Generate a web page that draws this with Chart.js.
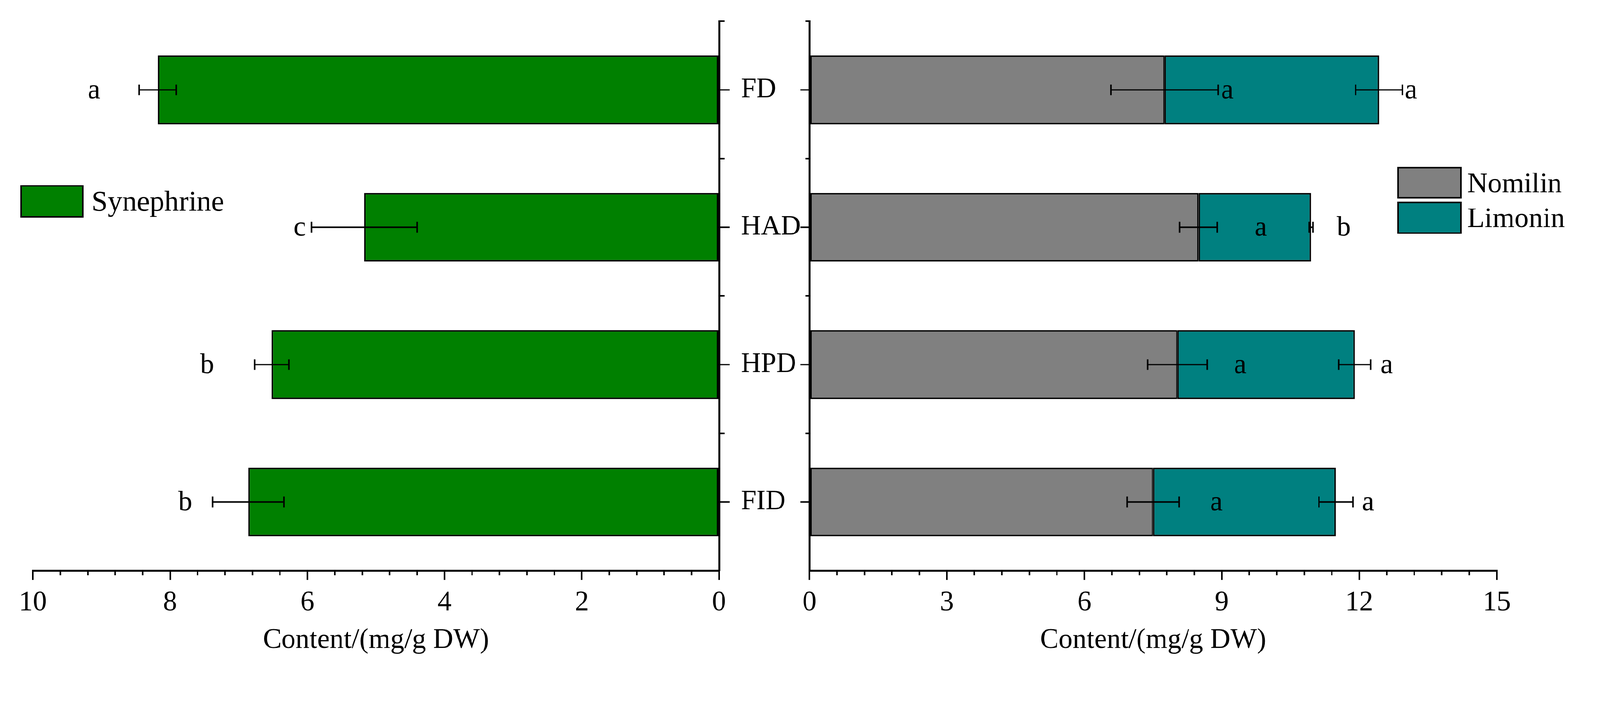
<!DOCTYPE html>
<html>
<head>
<meta charset="utf-8">
<title>Synephrine, nomilin and limonin content by drying method</title>
<script src="https://cdn.jsdelivr.net/npm/chart.js@4.4.1/dist/chart.umd.min.js"></script>
<style>
  html, body { margin: 0; padding: 0; background: #fff; overflow: hidden; }
  #wrap { position: absolute; left: 0; top: 0; width: 4230px; height: 1804px; transform-origin: 0 0; }
  canvas { position: absolute; top: 0; }
  #left { left: 0; }
  #right { left: 2100px; }
</style>
</head>
<body>
<div id="wrap">
  <canvas id="left" width="2140" height="1804"></canvas>
  <canvas id="right" width="2130" height="1804"></canvas>
</div>
<script>
// drying methods (top to bottom)
const methods = ["FD", "HAD", "HPD", "FID"];

// left panel: synephrine
const synephrine = [8.18, 5.17, 6.52, 6.86];
const synephrineErr = [0.27, 0.77, 0.25, 0.52];
const synephrineLetters = ["a", "c", "b", "b"];
const synephrineLetterAt = [9.11, 6.11, 7.46, 7.78];

// right panel: nomilin + limonin (stacked)
const nomilin = [7.75, 8.49, 8.03, 7.50];
const nomilinErr = [1.17, 0.41, 0.65, 0.57];
const nomilinLetters = ["a", "a", "a", "a"];
const nomilinLetterAt = [9.12, 9.85, 9.40, 8.88];

const limonin = [4.68, 2.46, 3.87, 3.99];
const limoninErr = [0.51, 0.04, 0.35, 0.37];
const limoninLetters = ["a", "b", "a", "a"];
const limoninLetterAt = [13.13, 11.66, 12.60, 12.19];

// value axis tick labels
const leftTicks = [0, 2, 4, 6, 8, 10];
const rightTicks = [0, 3, 6, 9, 12, 15];

const axisTitle = "Content/(mg/g DW)";
const FONT = "'Liberation Serif', 'Times New Roman', serif";

// the figure is laid out at 4230 x 1804, scale it to whatever the viewport really is
const fit = Math.min(window.innerWidth / 4230, window.innerHeight / 1804);
document.getElementById("wrap").style.transform = "scale(" + fit + ")";

Chart.defaults.font.family = FONT;
Chart.defaults.color = "#000";

// minor ticks on the value axis, and the category ticks in the middle gap
const axisDecor = {
  id: "axisDecor",
  afterDraw(chart, args, opts) {
    const { ctx, chartArea } = chart;
    const x = chart.scales.x, y = chart.scales.y;
    ctx.save();
    ctx.strokeStyle = "#000";
    ctx.lineWidth = 4;
    ctx.beginPath();
    const t = x.ticks.map(k => k.value);
    for (let i = 0; i < t.length - 1; i++) {
      const step = (t[i + 1] - t[i]) / 5;
      for (let j = 1; j < 5; j++) {
        const px = x.getPixelForValue(t[i] + j * step);
        ctx.moveTo(px, chartArea.bottom);
        ctx.lineTo(px, chartArea.bottom + opts.minorX);
      }
    }
    const ax = opts.side === "right" ? chartArea.right : chartArea.left;
    const dir = opts.side === "right" ? 1 : -1;
    const n = chart.data.labels.length;
    for (let i = 0; i < n; i++) {
      const py = y.getPixelForValue(i);
      ctx.moveTo(ax, py);
      ctx.lineTo(ax + dir * opts.major, py);
    }
    for (let i = 0; i < n; i++) {
      const py = y.getPixelForValue(i - 0.5);
      ctx.moveTo(ax, py);
      ctx.lineTo(ax + dir * opts.minor, py);
    }
    ctx.stroke();
    ctx.restore();
  }
};

// error bars + significance letters
const errorBars = {
  id: "errorBars",
  afterDatasetsDraw(chart, args, opts) {
    const { ctx } = chart;
    const x = chart.scales.x;
    ctx.save();
    ctx.strokeStyle = "#000";
    ctx.fillStyle = "#000";
    ctx.lineWidth = 4;
    ctx.font = opts.fontSize + "px " + FONT;
    ctx.textAlign = "center";
    ctx.textBaseline = "alphabetic";
    chart.data.datasets.forEach((ds, di) => {
      chart.getDatasetMeta(di).data.forEach((bar, i) => {
        const h = Math.abs(x.getPixelForValue(ds.errors[i]) - x.getPixelForValue(0));
        ctx.beginPath();
        ctx.moveTo(bar.x - h, bar.y);
        ctx.lineTo(bar.x + h, bar.y);
        ctx.moveTo(bar.x - h, bar.y - opts.cap);
        ctx.lineTo(bar.x - h, bar.y + opts.cap);
        ctx.moveTo(bar.x + h, bar.y - opts.cap);
        ctx.lineTo(bar.x + h, bar.y + opts.cap);
        ctx.stroke();
        ctx.fillText(ds.letters[i], x.getPixelForValue(ds.letterAt[i]), bar.y + opts.drop);
      });
    });
    ctx.restore();
  }
};

// boxed legend placed inside the panel
const boxLegend = {
  id: "boxLegend",
  afterDraw(chart, args, opts) {
    const { ctx } = chart;
    ctx.save();
    ctx.font = opts.fontSize + "px " + FONT;
    ctx.textAlign = "left";
    ctx.textBaseline = "alphabetic";
    chart.data.datasets.forEach((ds, i) => {
      const b = opts.boxes[i];
      ctx.fillStyle = ds.backgroundColor;
      ctx.fillRect(b.x, b.y, b.w, b.h);
      ctx.strokeStyle = "#000";
      ctx.lineWidth = 4;
      ctx.strokeRect(b.x, b.y, b.w, b.h);
      ctx.fillStyle = "#000";
      ctx.fillText(ds.label, opts.textX, b.y + b.h / 2 + opts.fontSize * 0.33);
    });
    ctx.restore();
  }
};

function valueAxis(ticks, reverse, fitHeight) {
  return {
    type: "linear",
    reverse: reverse,
    min: ticks[0],
    max: ticks[ticks.length - 1],
    afterBuildTicks: s => { s.ticks = ticks.map(v => ({ value: v })); },
    ticks: { font: { size: 74 }, color: "#000", padding: 16 },
    grid: { display: true, drawOnChartArea: false, drawTicks: true, tickLength: 25, color: "#000", lineWidth: 4 },
    border: { display: true, color: "#000", width: 5 },
    title: { display: true, text: axisTitle, font: { size: 74 }, color: "#000", padding: { top: 0, bottom: 67 } },
    afterFit: s => { s.height = fitHeight; }
  };
}

const barStyle = { borderColor: "#000", borderWidth: 4, borderSkipped: false, barPercentage: 0.5, categoryPercentage: 1.0 };

new Chart(document.getElementById("left"), {
  type: "bar",
  data: {
    labels: methods,
    datasets: [{
      label: "Synephrine",
      data: synephrine,
      errors: synephrineErr,
      letters: synephrineLetters,
      letterAt: synephrineLetterAt,
      backgroundColor: "#008000",
      ...barStyle
    }]
  },
  options: {
    indexAxis: "y",
    responsive: false,
    animation: false,
    layout: { padding: { left: 87, top: 56, right: 0, bottom: 0 } },
    plugins: {
      legend: { display: false },
      tooltip: { enabled: false },
      axisDecor: { side: "right", major: 28, minor: 15, minorX: 12 },
      errorBars: { cap: 14, fontSize: 74, drop: 22 },
      boxLegend: { fontSize: 77, textX: 242, boxes: [{ x: 56, y: 491, w: 163, h: 82 }] }
    },
    scales: {
      x: valueAxis(leftTicks, true, 296),
      y: {
        type: "category",
        position: "right",
        offset: true,
        // labels sit 58px right of the axis; the gap is given as an undrawn tick length
        grid: { display: false, drawTicks: true, tickLength: 58 },
        border: { display: true, color: "#000", width: 5 },
        ticks: { font: { size: 73 }, color: "#000", padding: 0, crossAlign: "near" },
        afterFit: s => { s.width = 239; }
      }
    }
  },
  plugins: [axisDecor, errorBars, boxLegend]
});

new Chart(document.getElementById("right"), {
  type: "bar",
  data: {
    labels: methods,
    datasets: [{
      label: "Nomilin",
      data: nomilin,
      errors: nomilinErr,
      letters: nomilinLetters,
      letterAt: nomilinLetterAt,
      backgroundColor: "#808080",
      ...barStyle
    }, {
      label: "Limonin",
      data: limonin,
      errors: limoninErr,
      letters: limoninLetters,
      letterAt: limoninLetterAt,
      backgroundColor: "#008080",
      ...barStyle
    }]
  },
  options: {
    indexAxis: "y",
    responsive: false,
    animation: false,
    layout: { padding: { left: 0, top: 56, right: 273, bottom: 0 } },
    plugins: {
      legend: { display: false },
      tooltip: { enabled: false },
      axisDecor: { side: "left", major: 24, minor: 11, minorX: 12 },
      errorBars: { cap: 14, fontSize: 74, drop: 22 },
      boxLegend: { fontSize: 75, textX: 1779, boxes: [{ x: 1596, y: 443, w: 166, h: 80 }, { x: 1596, y: 535, w: 166, h: 81 }] }
    },
    scales: {
      x: Object.assign(valueAxis(rightTicks, false, 296), { stacked: true }),
      y: {
        type: "category",
        position: "left",
        offset: true,
        stacked: true,
        grid: { display: false, drawTicks: false },
        border: { display: true, color: "#000", width: 5 },
        ticks: { display: false },
        afterFit: s => { s.width = 40; }
      }
    }
  },
  plugins: [axisDecor, errorBars, boxLegend]
});
</script>
</body>
</html>
